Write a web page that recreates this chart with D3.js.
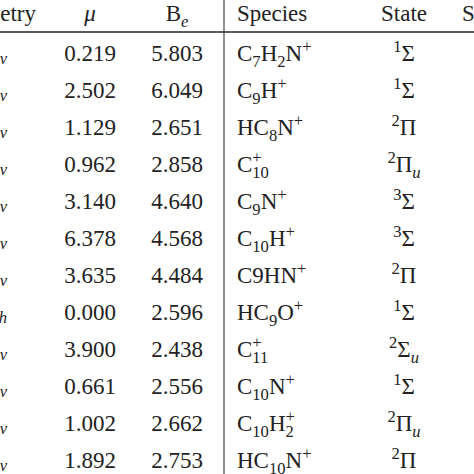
<!DOCTYPE html>
<html><head><meta charset="utf-8">
<script src="https://cdn.jsdelivr.net/npm/d3@7"></script>
<style>body{margin:0;background:#fff}text{font-family:"Liberation Serif",serif;fill:#222}</style>
</head><body><script>
// table contents
var headers = ["Symmetry", "μ", "B_e", "Species", "State", "Symmetry"];
var symmetry = ["v","v","v","v","v","v","v","h","v","v","v","v"];
var mu = ["0.219","2.502","1.129","0.962","3.140","6.378","3.635","0.000","3.900","0.661","1.002","1.892"];
var be = ["5.803","6.049","2.651","2.858","4.640","4.568","4.484","2.596","2.438","2.556","2.662","2.753"];
var species = ["C_7H_2N^+","C_9H^+","HC_8N^+","C^+|_10","C_9N^+","C_10H^+","C9HN^+","HC_9O^+","C^+|_11","C_10N^+","C_10H^+|_2","HC_10N^+"];
var states = ["^1Σ","^1Σ","^2Π","^2Π_u","^3Σ","^3Σ","^2Π","^1Σ","^2Σ_u","^1Σ","^2Π_u","^2Π"];

var W = 474, H = 474, fs = 23;
var svg = d3.select("body").append("svg").attr("width", W).attr("height", H);

var y = d3.scaleBand().domain(d3.range(mu.length)).range([34.5, 478.5]);

// parse "C_7H^+" style markup into segments ("|_" = subscript stacked under previous sup)
function tokens(s){
    var out = [], i = 0;
    s = s.replace(/\|_/g, "§");
    while (i < s.length){
        var c = s[i];
        if (c == "_" || c == "^" || c == "§"){
            var mm = s.slice(i+1).match(/^(\+|\d+|[a-z])/);
            out.push({t: mm[0], k: c == "^" ? "sup" : "sub", stack: c == "§"});
            i += 1 + mm[0].length;
        } else {
            var mm2 = s.slice(i).match(/^[^_^§]+/);
            out.push({t: mm2[0], k: "n"});
            i += mm2[0].length;
        }
    }
    return out;
}

function rich(g, str, x, yy, anchor){
    var t = g.append("text").attr("x", x).attr("y", yy).attr("text-anchor", anchor || "start").style("font-size", fs + "px");
    var cur = 0, lastLen = 0;
    tokens(str).forEach(function(tk){
        var off = tk.k == "sub" ? 6 : tk.k == "sup" ? -9 : 0;
        var sp = t.append("tspan").attr("dy", off - cur).text(tk.t)
            .style("font-size", (tk.k == "n" ? fs : fs * 0.72) + "px");
        if (/^[a-z]$/.test(tk.t)) sp.style("font-style", "italic");
        if (tk.stack) sp.attr("dx", -lastLen);
        cur = off;
        lastLen = sp.node().getComputedTextLength();
    });
    return t;
}

// header
var hy = 21;
rich(svg, headers[0], 36, hy, "end");
svg.append("text").attr("x", 90).attr("y", hy).attr("text-anchor", "middle").style("font-size", fs + "px").style("font-style", "italic").text(headers[1]);
rich(svg, headers[2], 177, hy, "middle");
rich(svg, headers[3], 237, hy);
rich(svg, headers[4], 404, hy, "middle");
rich(svg, headers[5], 462, hy);

svg.append("line").attr("x1", 0).attr("x2", W).attr("y1", 32).attr("y2", 32).attr("stroke", "#222").attr("stroke-width", 1.6);
svg.append("line").attr("x1", 224).attr("x2", 224).attr("y1", 0).attr("y2", H).attr("stroke", "#444").attr("stroke-width", 1.2);

var rows = svg.selectAll(".row").data(d3.range(mu.length)).enter().append("g")
    .attr("class", "row")
    .attr("transform", function(d){ return "translate(0," + (y(d) + y.bandwidth() / 2 + 8) + ")"; });

rows.each(function(i){
    var g = d3.select(this);
    g.append("text").attr("x", 7).attr("y", 3).attr("text-anchor", "end")
        .style("font-size", fs * 0.72 + "px").style("font-style", "italic").text(symmetry[i]);
    g.append("text").attr("x", 90).attr("text-anchor", "middle").style("font-size", fs + "px").text(mu[i]);
    g.append("text").attr("x", 177).attr("text-anchor", "middle").style("font-size", fs + "px").text(be[i]);
    rich(g, species[i], 237, 0);
    rich(g, states[i], 404, 0, "middle");
});
</script></body></html>
